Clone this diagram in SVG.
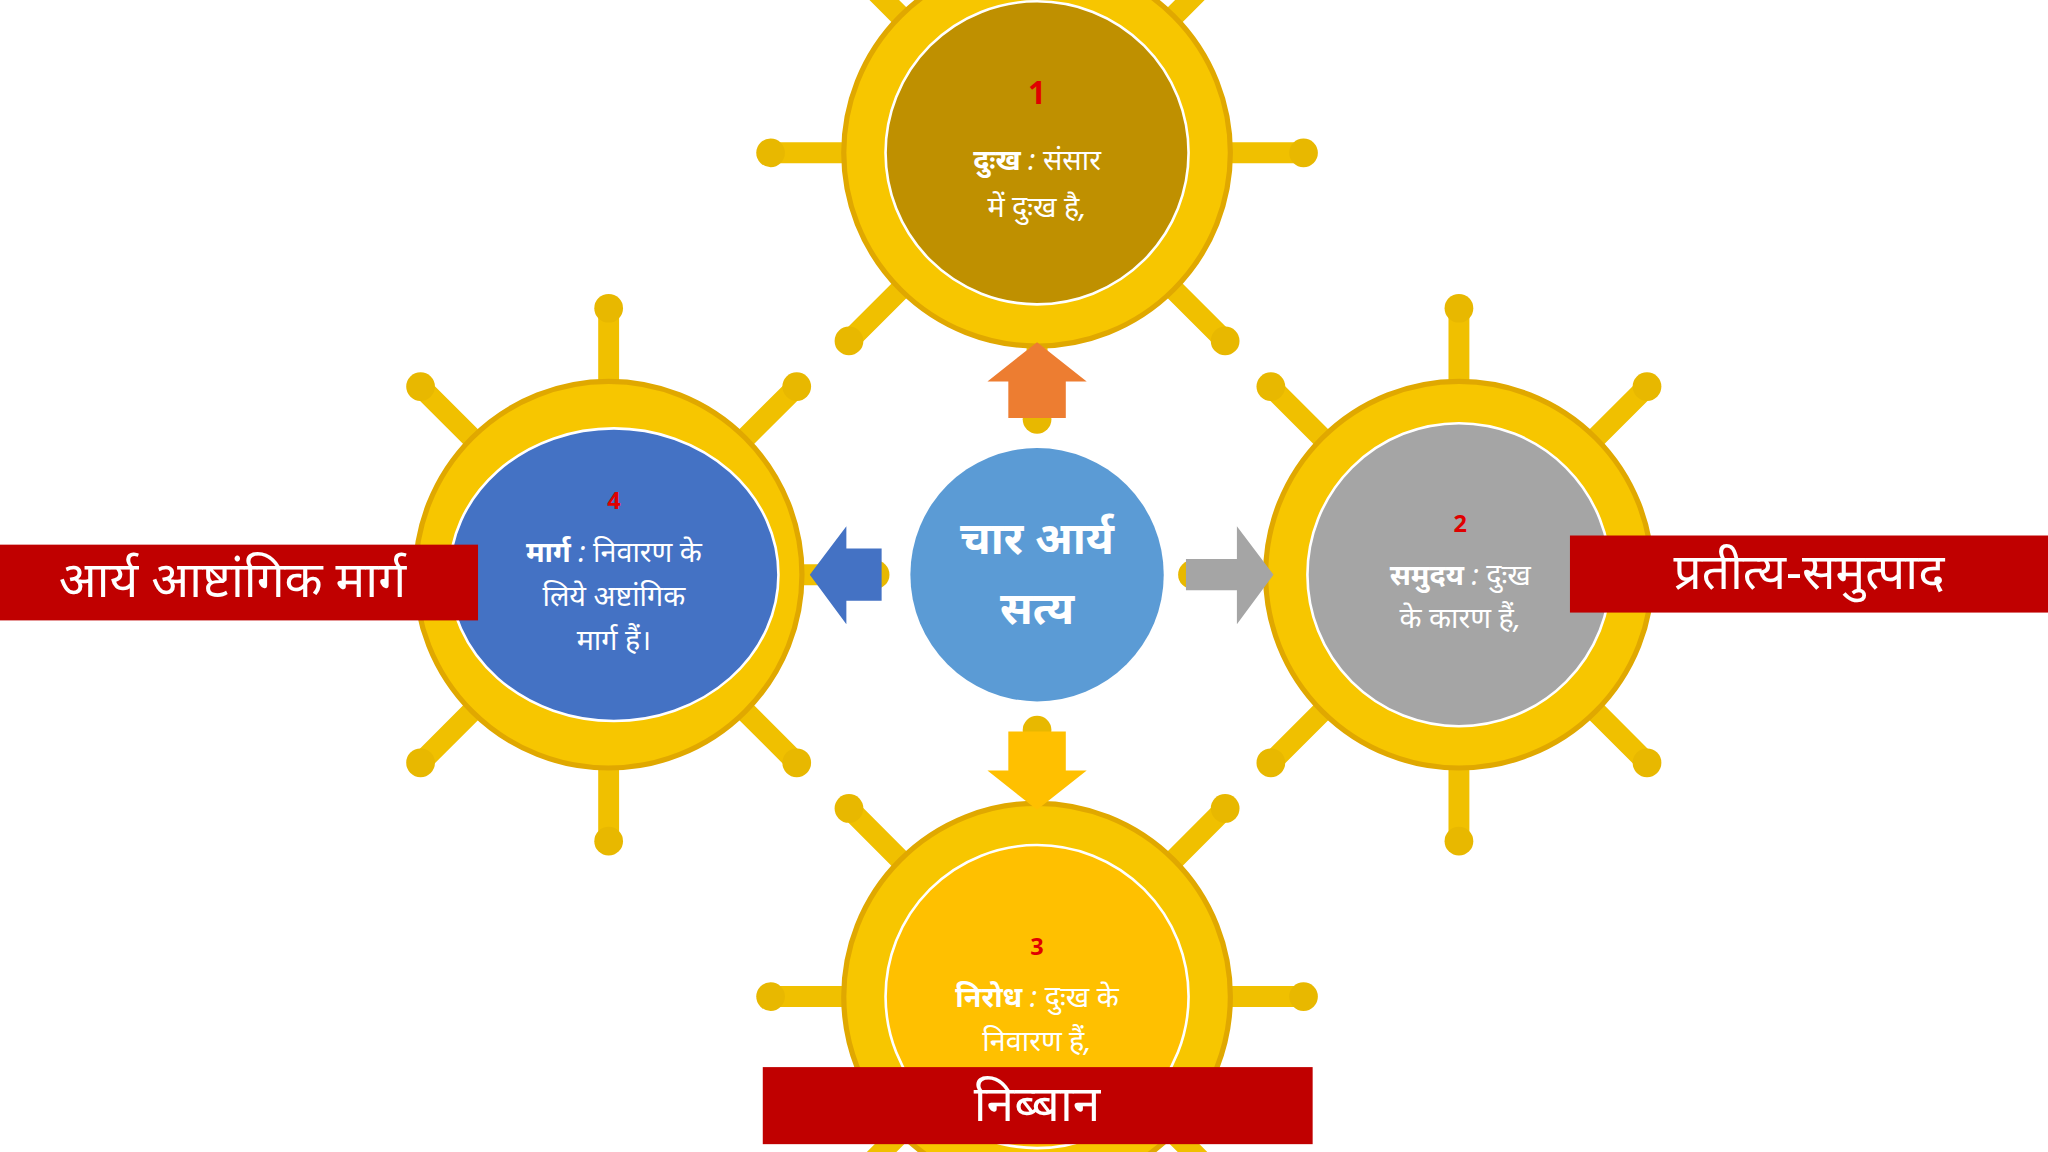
<svg xmlns="http://www.w3.org/2000/svg" width="2048" height="1152" viewBox="0 0 2048 1152">
<style>
text{font-family:"Noto Sans","Liberation Sans",sans-serif;text-anchor:middle}
.num{fill:#e00000;font-weight:bold}
.t{fill:#fff;font-style:italic;font-size:22px}
.b{font-weight:bold;font-style:normal}
.ring{fill:#f7c600;stroke:#e0a800;stroke-width:4}
.sp{stroke:#f0c000;stroke-width:16;stroke-linecap:round}
.knob{fill:#e8b800}
.banner{fill:#c00000}
.bt{fill:#fff;font-size:38px}
</style>
<defs>
<g id="spokes">
<g class="sp"><line x1="0" y1="-140" x2="0" y2="-200"/><line x1="0" y1="140" x2="0" y2="200"/><line x1="-140" y1="0" x2="-200" y2="0"/><line x1="140" y1="0" x2="200" y2="0"/>
<line x1="99" y1="99" x2="141" y2="141"/><line x1="-99" y1="99" x2="-141" y2="141"/><line x1="99" y1="-99" x2="141" y2="-141"/><line x1="-99" y1="-99" x2="-141" y2="-141"/></g>
<g class="knob"><circle cx="0" cy="-204" r="11"/><circle cx="0" cy="204" r="11"/><circle cx="-204" cy="0" r="11"/><circle cx="204" cy="0" r="11"/><circle cx="144" cy="144" r="11"/><circle cx="-144" cy="144" r="11"/><circle cx="144" cy="-144" r="11"/><circle cx="-144" cy="-144" r="11"/></g>
<circle class="ring" r="148"/>
</g>
</defs>
<rect width="2048" height="1152" fill="#fff"/>
<g transform="scale(1.30612)">
<g id="top"><use href="#spokes" x="794" y="117"/><circle cx="794" cy="117" r="116" fill="#bf9000" stroke="#fff" stroke-width="2"/>
<text x="794" y="80" class="num" font-size="24">1</text>
<text x="794" y="130" class="t"><tspan class="b">दुःख</tspan> : संसार</text>
<text x="794" y="166" class="t">में दुःख है,</text></g>
<g id="right"><use href="#spokes" x="1117" y="440"/><circle cx="1117" cy="440" r="116" fill="#a5a5a5" stroke="#fff" stroke-width="2"/>
<text x="1118" y="407" class="num" font-size="18">2</text>
<text x="1118" y="448" class="t" font-size="20"><tspan class="b">समुदय</tspan> : दुःख</text>
<text x="1118" y="481" class="t" font-size="20">के कारण हैं,</text></g>
<g id="bottom"><use href="#spokes" x="794" y="763"/><circle cx="794" cy="763" r="116" fill="#ffc000" stroke="#fff" stroke-width="2"/>
<text x="794" y="731" class="num" font-size="18">3</text>
<text x="794" y="771" class="t" font-size="21"><tspan class="b">निरोध</tspan> : दुःख के</text>
<text x="794" y="805" class="t" font-size="21">निवारण हैं,</text></g>
<g id="left"><use href="#spokes" x="466" y="440"/><ellipse cx="470" cy="440" rx="126" ry="112" fill="#4472c4" stroke="#fff" stroke-width="2"/>
<text x="470" y="390" class="num" font-size="18">4</text>
<text x="470" y="430" class="t" font-size="21"><tspan class="b">मार्ग</tspan> : निवारण के</text>
<text x="470" y="464" class="t" font-size="21">लिये अष्टांगिक</text>
<text x="470" y="498" class="t" font-size="21">मार्ग हैं।</text></g>
<g id="center"><circle cx="794" cy="440" r="97" fill="#5b9bd5"/>
<text x="794" y="424" fill="#fff" font-weight="bold" font-size="34">चार आर्य</text>
<text x="794" y="478" fill="#fff" font-weight="bold" font-size="34">सत्य</text></g>
<g id="connectors">
<polygon points="794,262 832,292 816,292 816,320 772,320 772,292 756,292" fill="#ed7d31"/>
<polygon points="975,440 947,403 947,428 908,428 908,452 947,452 947,478" fill="#a5a5a5"/>
<polygon points="794,620 832,590 816,590 816,560 772,560 772,590 756,590" fill="#ffc000"/>
<polygon points="620,440 648,403 648,420 675,420 675,460 648,460 648,478" fill="#4472c4"/>
</g>
<g id="banner-left"><rect class="banner" x="0" y="417" width="366" height="58"/><text x="178" y="457" class="bt">आर्य आष्टांगिक मार्ग</text></g>
<g id="banner-right"><rect class="banner" x="1202" y="410" width="366" height="59"/><text x="1385" y="451" class="bt">प्रतीत्य-समुत्पाद</text></g>
<g id="banner-bottom"><rect class="banner" x="584" y="817" width="421" height="59"/><text x="794" y="858" class="bt">निब्बान</text></g>
</g>
</svg>
